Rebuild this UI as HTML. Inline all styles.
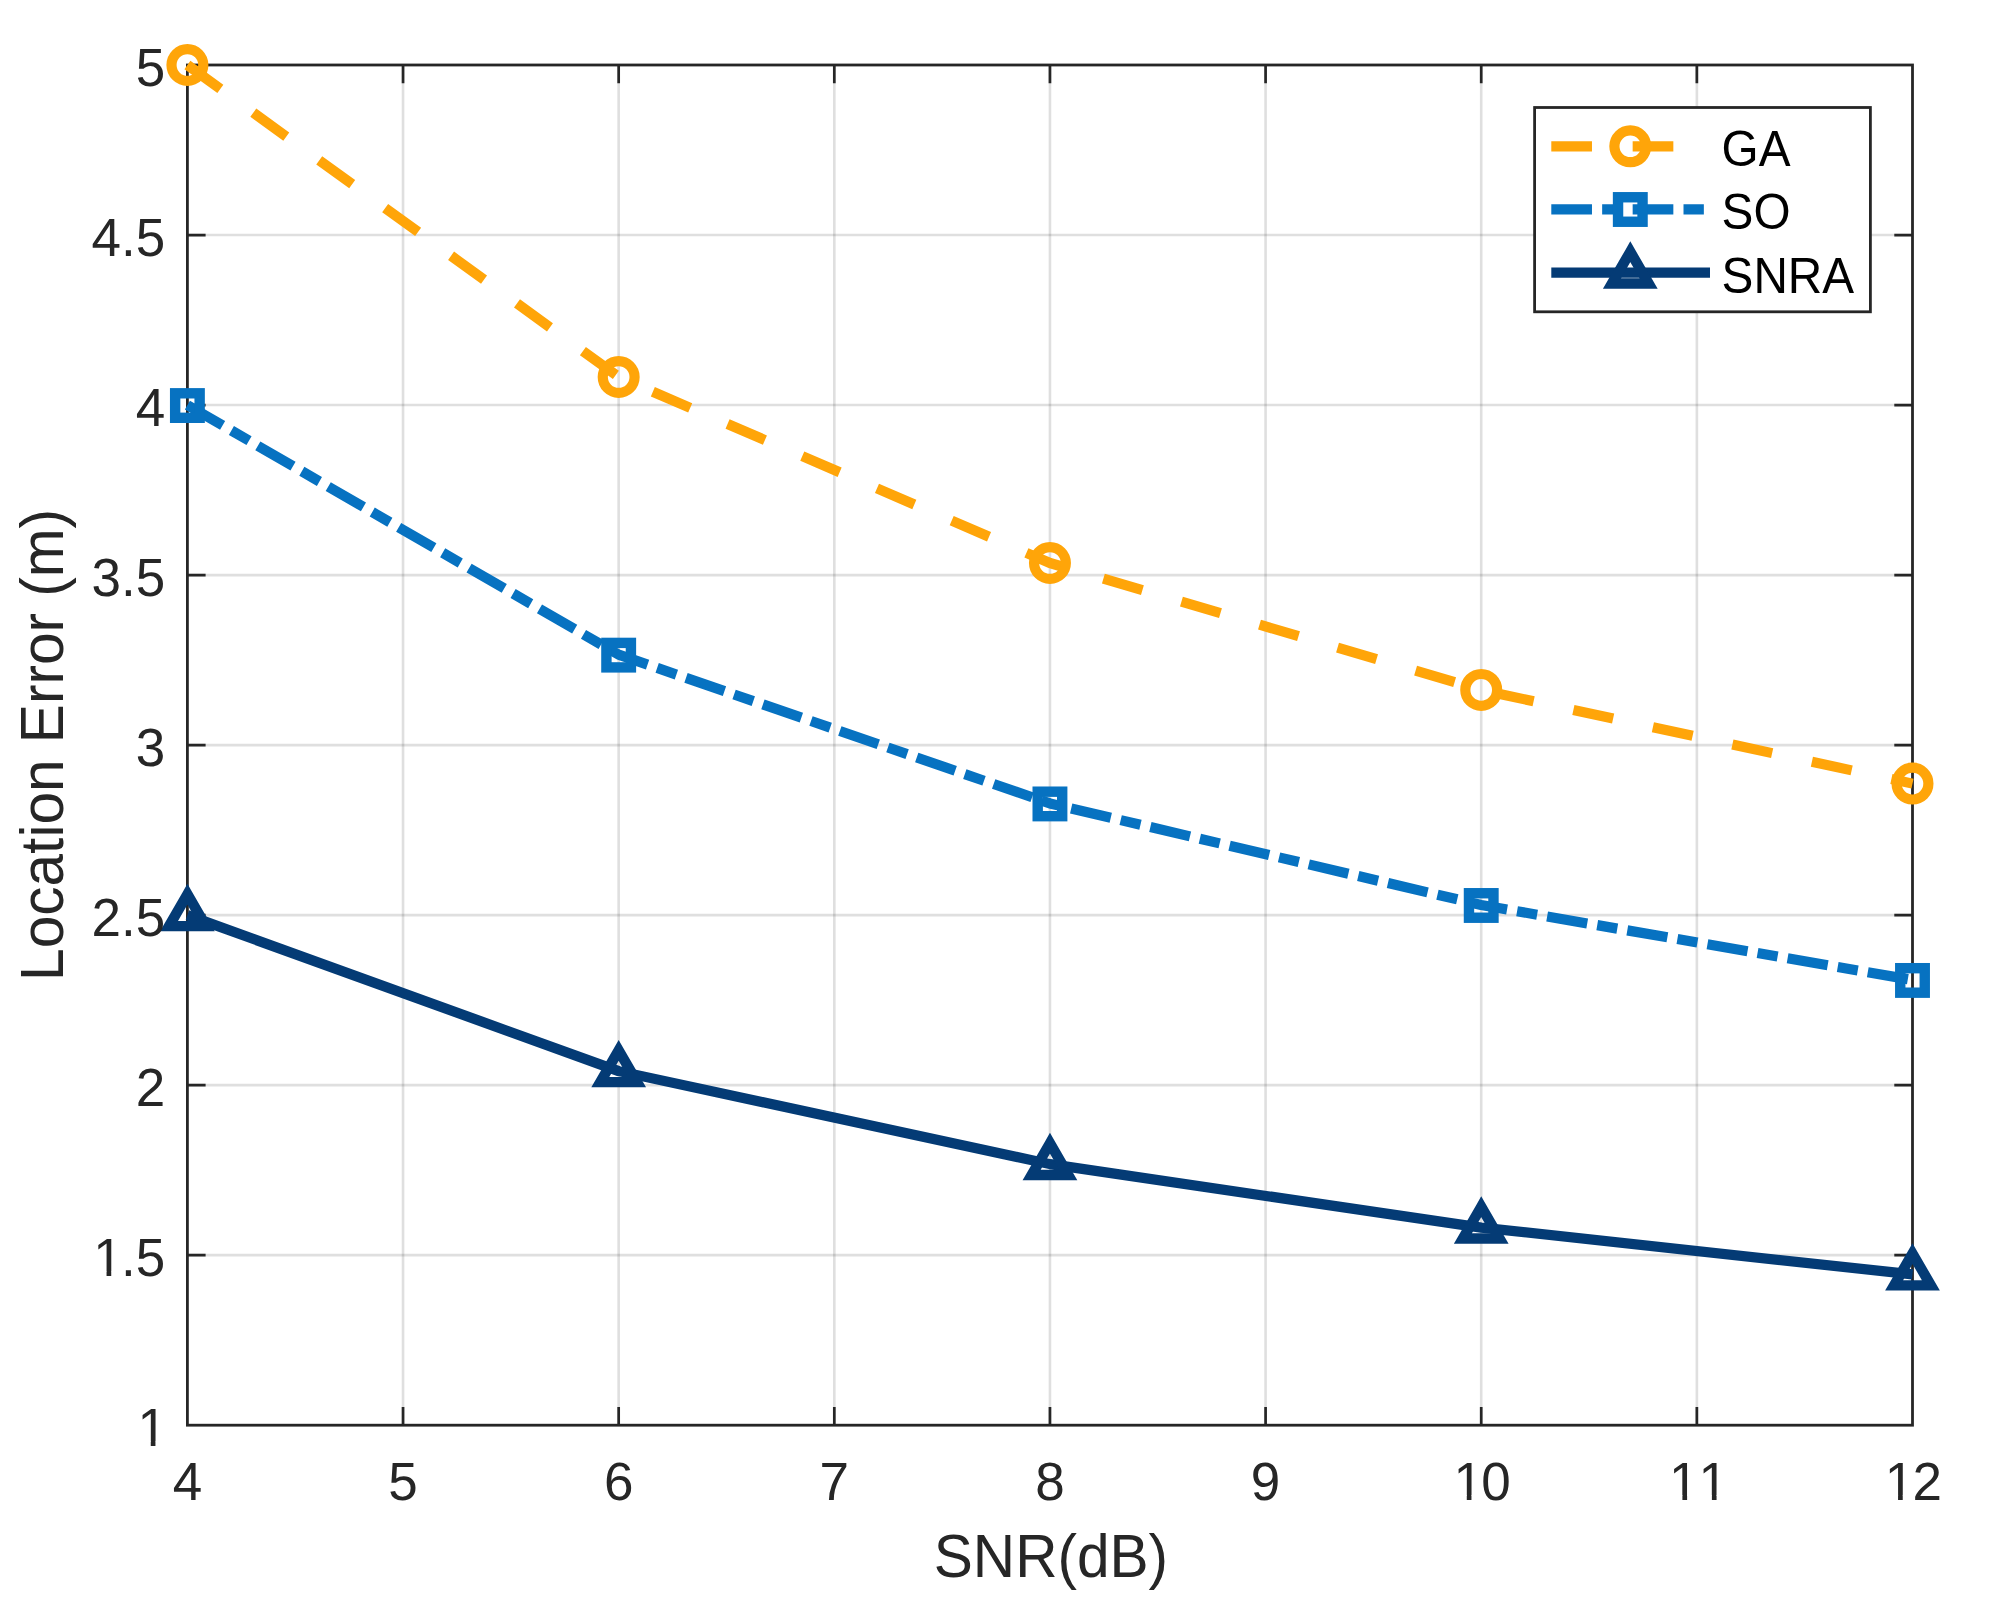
<!DOCTYPE html>
<html lang="en"><head><meta charset="utf-8"><title>Location Error vs SNR</title>
<style>html,body{margin:0;padding:0;background:#fff}svg{display:block}text{font-family:"Liberation Sans",Arial,sans-serif}</style></head><body>
<svg width="1990" height="1615" viewBox="0 0 1990 1615">
<rect width="1990" height="1615" fill="#fff"/>
<path d="M403.04 65.00V1425.20M618.67 65.00V1425.20M834.31 65.00V1425.20M1049.95 65.00V1425.20M1265.59 65.00V1425.20M1481.22 65.00V1425.20M1696.86 65.00V1425.20" stroke="#262626" stroke-opacity="0.15" stroke-width="2.6" fill="none"/>
<path d="M187.40 1255.17H1912.50M187.40 1085.15H1912.50M187.40 915.12H1912.50M187.40 745.10H1912.50M187.40 575.08H1912.50M187.40 405.05H1912.50M187.40 235.03H1912.50" stroke="#262626" stroke-opacity="0.15" stroke-width="2.6" fill="none"/>
<path d="M403.04 1425.20v-18.20M403.04 65.00v18.20M618.67 1425.20v-18.20M618.67 65.00v18.20M834.31 1425.20v-18.20M834.31 65.00v18.20M1049.95 1425.20v-18.20M1049.95 65.00v18.20M1265.59 1425.20v-18.20M1265.59 65.00v18.20M1481.22 1425.20v-18.20M1481.22 65.00v18.20M1696.86 1425.20v-18.20M1696.86 65.00v18.20M187.40 1255.17h18.20M1912.50 1255.17h-18.20M187.40 1085.15h18.20M1912.50 1085.15h-18.20M187.40 915.12h18.20M1912.50 915.12h-18.20M187.40 745.10h18.20M1912.50 745.10h-18.20M187.40 575.08h18.20M1912.50 575.08h-18.20M187.40 405.05h18.20M1912.50 405.05h-18.20M187.40 235.03h18.20M1912.50 235.03h-18.20" stroke="#262626" stroke-width="2.7" fill="none"/>
<rect x="187.40" y="65.00" width="1725.10" height="1360.20" fill="none" stroke="#262626" stroke-width="2.8"/>
<g fill="none" stroke-width="10.2" stroke-linejoin="round">
<polyline points="187.40,65.00 618.67,377.00 1049.95,562.99 1481.22,689.92 1912.50,783.61" stroke="#FFA509" stroke-dasharray="40.68 40.68"/>
<polyline points="187.40,405.05 618.67,654.65 1049.95,803.44 1481.22,904.98 1912.50,979.94" stroke="#0772C1" stroke-dasharray="40.68 10.17 20.34 10.17"/>
<polyline points="187.40,915.12 618.67,1071.13 1049.95,1164.12 1481.22,1227.58 1912.50,1274.43" stroke="#043B75"/>
</g>
<circle cx="187.40" cy="65.00" r="15.9" fill="none" stroke="#FFA509" stroke-width="10.2"/>
<circle cx="618.67" cy="377.00" r="15.9" fill="none" stroke="#FFA509" stroke-width="10.2"/>
<circle cx="1049.95" cy="562.99" r="15.9" fill="none" stroke="#FFA509" stroke-width="10.2"/>
<circle cx="1481.22" cy="689.92" r="15.9" fill="none" stroke="#FFA509" stroke-width="10.2"/>
<circle cx="1912.50" cy="783.61" r="15.9" fill="none" stroke="#FFA509" stroke-width="10.2"/>
<rect x="175.15" y="393.30" width="24.50" height="24.50" fill="none" stroke="#0772C1" stroke-width="10.4"/>
<rect x="606.42" y="642.90" width="24.50" height="24.50" fill="none" stroke="#0772C1" stroke-width="10.4"/>
<rect x="1037.70" y="791.69" width="24.50" height="24.50" fill="none" stroke="#0772C1" stroke-width="10.4"/>
<rect x="1468.97" y="893.23" width="24.50" height="24.50" fill="none" stroke="#0772C1" stroke-width="10.4"/>
<rect x="1900.25" y="968.19" width="24.50" height="24.50" fill="none" stroke="#0772C1" stroke-width="10.4"/>
<polygon points="187.40,894.27 169.04,926.08 205.76,926.08" fill="none" stroke="#043B75" stroke-width="10.4" stroke-linejoin="miter" stroke-miterlimit="10"/>
<polygon points="618.67,1050.28 600.32,1082.08 637.03,1082.08" fill="none" stroke="#043B75" stroke-width="10.4" stroke-linejoin="miter" stroke-miterlimit="10"/>
<polygon points="1049.95,1143.27 1031.59,1175.07 1068.31,1175.07" fill="none" stroke="#043B75" stroke-width="10.4" stroke-linejoin="miter" stroke-miterlimit="10"/>
<polygon points="1481.22,1206.73 1462.87,1238.53 1499.58,1238.53" fill="none" stroke="#043B75" stroke-width="10.4" stroke-linejoin="miter" stroke-miterlimit="10"/>
<polygon points="1912.50,1253.58 1894.14,1285.38 1930.86,1285.38" fill="none" stroke="#043B75" stroke-width="10.4" stroke-linejoin="miter" stroke-miterlimit="10"/>
<g fill="#262626" font-size="53" style="font-kerning:none">
<text transform="translate(0 1500.00) scale(1 1.02)" x="172.66" y="0">4</text>
<text transform="translate(0 1500.00) scale(1 1.02)" x="388.30" y="0">5</text>
<text transform="translate(0 1500.00) scale(1 1.02)" x="603.94" y="0">6</text>
<text transform="translate(0 1500.00) scale(1 1.02)" x="819.57" y="0">7</text>
<text transform="translate(0 1500.00) scale(1 1.02)" x="1035.21" y="0">8</text>
<text transform="translate(0 1500.00) scale(1 1.02)" x="1250.85" y="0">9</text>
<text transform="translate(0 1500.00) scale(1 1.02)" x="1453.45 1481.22" y="0">10</text>
<text transform="translate(0 1500.00) scale(1 1.02)" x="1669.09 1698.56" y="0">11</text>
<text transform="translate(0 1500.00) scale(1 1.02)" x="1884.72 1912.50" y="0">12</text>
<text transform="translate(0 1446.20) scale(1 1.02)" x="137.42" y="0">1</text>
<text transform="translate(0 1276.17) scale(1 1.02)" x="93.22 121.00 135.72" y="0">1.5</text>
<text transform="translate(0 1106.15) scale(1 1.02)" x="135.72" y="0">2</text>
<text transform="translate(0 936.12) scale(1 1.02)" x="91.52 121.00 135.72" y="0">2.5</text>
<text transform="translate(0 766.10) scale(1 1.02)" x="135.72" y="0">3</text>
<text transform="translate(0 596.08) scale(1 1.02)" x="91.52 121.00 135.72" y="0">3.5</text>
<text transform="translate(0 426.05) scale(1 1.02)" x="135.72" y="0">4</text>
<text transform="translate(0 256.03) scale(1 1.02)" x="91.52 121.00 135.72" y="0">4.5</text>
<text transform="translate(0 86.00) scale(1 1.02)" x="135.72" y="0">5</text>
</g>
<path d="M1456.10 1495.36H1466.78V1501.50H1456.10ZM1471.46 1495.36H1481.54V1501.50H1471.46ZM1671.74 1495.36H1682.41V1501.50H1671.74ZM1687.10 1495.36H1697.18V1501.50H1687.10ZM1701.21 1495.36H1711.89V1501.50H1701.21ZM1716.57 1495.36H1726.65V1501.50H1716.57ZM1887.37 1495.36H1898.05V1501.50H1887.37ZM1902.74 1495.36H1912.81V1501.50H1902.74ZM140.07 1441.56H150.75V1447.70H140.07ZM155.44 1441.56H165.51V1447.70H155.44ZM95.87 1271.54H106.55V1277.67H95.87ZM111.23 1271.54H121.31V1277.67H111.23Z" fill="#fff"/>
<text transform="translate(1050.95 1576.8) scale(1 1.03)" text-anchor="middle" font-size="58.6" fill="#262626">SNR(dB)</text>
<text transform="translate(63.2 744.90) rotate(-90) scale(1 1.03)" text-anchor="middle" font-size="58.6" fill="#262626">Location Error (m)</text>
<rect x="1534.60" y="107.50" width="335.80" height="204.30" fill="#fff" stroke="#262626" stroke-width="2.8"/>
<g fill="none" stroke-width="10.2">
<path d="M1551.30 146.30H1710.00" stroke="#FFA509" stroke-dasharray="40.68 40.68"/>
<path d="M1551.30 209.30H1710.00" stroke="#0772C1" stroke-dasharray="40.68 10.17 20.34 10.17"/>
<path d="M1551.30 272.60H1710.00" stroke="#043B75"/>
</g>
<circle cx="1630.30" cy="146.30" r="15.9" fill="none" stroke="#FFA509" stroke-width="10.2"/>
<rect x="1618.05" y="197.25" width="24.50" height="24.50" fill="none" stroke="#0772C1" stroke-width="10.4"/>
<polygon points="1630.30,251.75 1611.94,283.55 1648.66,283.55" fill="none" stroke="#043B75" stroke-width="10.4" stroke-linejoin="miter" stroke-miterlimit="10"/>
<g fill="#000" font-size="47.7">
<text transform="translate(1721.6 165.50) scale(1 1.03)">GA</text>
<text transform="translate(1721.6 228.60) scale(1 1.03)">SO</text>
<text transform="translate(1721.6 292.70) scale(1 1.03)">SNRA</text>
</g>
</svg></body></html>
